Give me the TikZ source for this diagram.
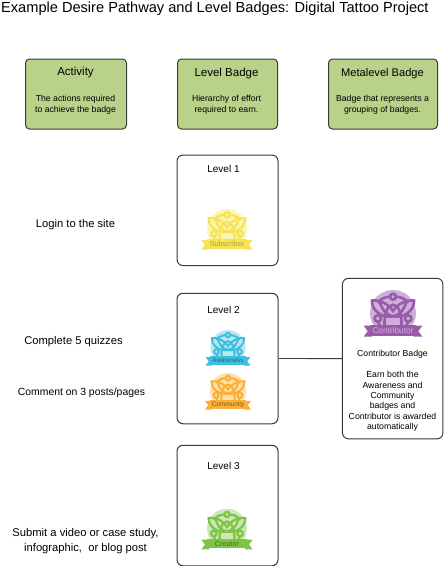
\documentclass[tikz,border=0pt]{standalone}
\usepackage{fontspec}
\setmainfont{Liberation Sans}
\definecolor{boxgreen}{HTML}{B9D28A}
\definecolor{edge}{HTML}{3A3A3A}
\definecolor{ylight}{HTML}{FBF5B5}\definecolor{ydark}{HTML}{F6E455}
\definecolor{blight}{HTML}{BDE6F3}\definecolor{bdark}{HTML}{3DBFDF}
\definecolor{olight}{HTML}{FFE0A8}\definecolor{odark}{HTML}{FBB03B}
\definecolor{glight}{HTML}{CDE8B8}\definecolor{gdark}{HTML}{80C447}
\definecolor{plight}{HTML}{CDB0DA}\definecolor{pdark}{HTML}{9A5BAA}
\tikzset{
  headbox/.style={draw=edge,line width=1pt,fill=boxgreen,rounded corners=4pt,anchor=center,inner sep=0pt},
  levelbox/.style={draw=edge,line width=1pt,fill=white,rounded corners=6pt,anchor=center,inner sep=0pt},
  txt/.style={text=black,inner sep=0pt,align=center,anchor=center},
  head/.style={txt,font=\fontsize{11.5}{13}\selectfont},
  small/.style={txt,font=\fontsize{8.7}{10.6}\selectfont},
  act/.style={txt,font=\fontsize{11.2}{15.5}\selectfont},
}
\newcommand{\mybadge}[8]{% name, x, y, scale, light, dark, label, label colour
  \pgfmathsetmacro{\bfs}{#4*.36}
  \begin{scope}[shift={(#2,#3)},x=#4pt,y=-#4pt]
    \fill[#5] (0,0) circle (1);
    \begin{scope}[draw=#6,line width=#4*0.115pt,line cap=round]
      \draw (-.36,.62) .. controls (-.42,.05) and (-.24,-.34) .. (0,-.36) .. controls (.24,-.34) and (.42,.05) .. (.36,.62);
      \draw (-.92,-.54) .. controls (-.92,-.05) and (-.4,.24) .. (0,.14) .. controls (.34,.06) and (.48,-.15) .. (.58,-.5);
      \draw (.92,-.54) .. controls (.92,-.05) and (.4,.24) .. (0,.14) .. controls (-.34,.06) and (-.48,-.15) .. (-.58,-.5);
      \draw (-.92,-.54) .. controls (-.62,-.58) and (-.22,-.44) .. (0,-.08) .. controls (.22,-.44) and (.62,-.58) .. (.92,-.54);
      \draw (.0,-.71) circle (.13);
      \draw (-.13,-.71) .. controls (-.34,-.7) and (-.54,-.62) .. (-.64,-.46);
      \draw (.13,-.71) .. controls (.34,-.7) and (.54,-.62) .. (.64,-.46);
      \draw (-.66,.24) circle (.14);
      \draw (.66,.24) circle (.14);
      \draw (-.66,.38) -- (-.56,.58);
      \draw (.66,.38) -- (.56,.58);
    \end{scope}
    \fill[#6] (-1.28,.55) -- (-.9,.55) -- (-.9,1.03) -- (-1.28,1.03) -- (-1.1,.79) -- cycle;
    \fill[#6] (1.28,.55) -- (.9,.55) -- (.9,1.03) -- (1.28,1.03) -- (1.1,.79) -- cycle;
    \fill[#6] (-1.02,.5) rectangle (1.02,.98);
    \node[txt,text=#8,font=\fontsize{\bfs}{\bfs}\selectfont] (#1) at (0,.75) {#7};
  \end{scope}
}
\begin{document}
\begin{tikzpicture}[x=1pt,y=-1pt]
\useasboundingbox (0,0) rectangle (444,566);
\node[txt,font=\fontsize{14.6}{18}\selectfont,anchor=west] (title) at (1,8.5) {Example Desire Pathway and Level Badges: Digital Tattoo Project};

\node[headbox,minimum width=101pt,minimum height=70pt] (hact) at (76,94) {};
\node[headbox,minimum width=100pt,minimum height=70pt] (hlvl) at (227.5,94) {};
\node[headbox,minimum width=109pt,minimum height=70pt] (hmeta) at (383,94) {};
\node[head] (t1) at (75.5,73) {Activity};
\node[head] (t2) at (226.5,74) {Level Badge};
\node[head,font=\fontsize{11.1}{13}\selectfont] (t3) at (382.5,74) {Metalevel Badge};
\node[small] (d1) at (75.5,105) {The actions required\\to achieve the badge};
\node[small] (d2) at (226.5,105) {Hierarchy of effort\\required to earn.};
\node[small] (d3) at (382.5,105) {Badge that represents a\\grouping of badges.};

\node[levelbox,minimum width=101pt,minimum height=110.5pt] (l1) at (227.5,210.3) {};
\node[levelbox,minimum width=101pt,minimum height=130.5pt] (l2) at (227.5,358.5) {};
\node[levelbox,minimum width=101pt,minimum height=120.5pt] (l3) at (227.5,505.5) {};
\node[levelbox,minimum width=100.5pt,minimum height=160.5pt] (meta) at (392.7,358.6) {};
\draw[edge,line width=.9pt] (l2.east) -- (meta.west);

\node[head,font=\fontsize{10}{12}\selectfont] (n1) at (223.5,169) {Level 1};
\node[head,font=\fontsize{10}{12}\selectfont] (n2) at (223.5,309.5) {Level 2};
\node[head,font=\fontsize{10}{12}\selectfont] (n3) at (223.5,465.5) {Level 3};

\mybadge{b1}{227}{229}{20}{ylight}{ydark}{Subscriber}{black!30!ydark}
\mybadge{b2}{228}{347.5}{17.5}{blight}{bdark}{Awareness}{black!45!bdark}
\mybadge{b3}{228}{391}{18}{olight}{odark}{Community}{black!50!odark}
\mybadge{b4}{227}{528.7}{20}{glight}{gdark}{Creator}{black!45!gdark}
\mybadge{b5}{393}{313}{23}{plight}{pdark}{Contributor}{plight}

\node[small,font=\fontsize{8.7}{10.4}\selectfont] (c1) at (392.5,354.5) {Contributor Badge};
\node[small,font=\fontsize{8.7}{10.35}\selectfont] (c2) at (392.5,401.3) {Earn both the\\Awareness and\\Community\\badges and\\Contributor is awarded\\automatically};

\node[act] (a1) at (75.5,225) {Login to the site};
\node[act] (a2) at (73.5,341.5) {Complete 5 quizzes};
\node[act,font=\fontsize{10.4}{15.5}\selectfont] (a3) at (81.5,393) {Comment on 3 posts/pages};
\node[act] (a4) at (85.5,541.3) {Submit a video or case study,\\infographic,\ \ or blog post};
\end{tikzpicture}
\end{document}
